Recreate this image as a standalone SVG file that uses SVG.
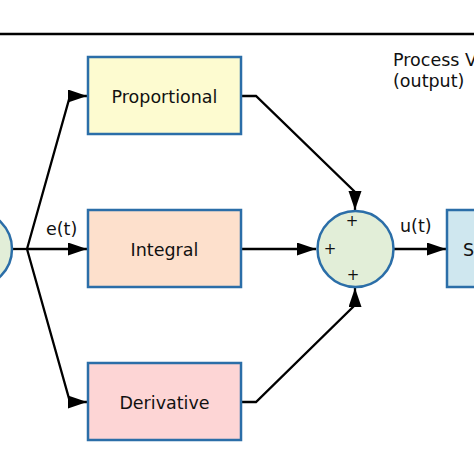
<svg xmlns="http://www.w3.org/2000/svg" width="474" height="474" viewBox="0 0 474 474">
<style>
.box{stroke:#2b6ea8;stroke-width:2.5}
.lbl{font-family:"DejaVu Sans",sans-serif;font-size:17.5px;fill:#111}
.pm{font-family:"DejaVu Sans",sans-serif;font-size:15px;fill:#111}
.c{fill:none;stroke:#000;stroke-width:2.3}
</style>
<defs>
<marker id="ah" markerUnits="userSpaceOnUse" markerWidth="22" markerHeight="16" refX="19" refY="6.5" orient="auto">
<path d="M0,0 L19,6.5 L0,13 z" fill="#000"/>
</marker>
</defs>
<rect width="474" height="474" fill="#fff"/>
<line x1="0" y1="34" x2="474" y2="34" stroke="#000" stroke-width="2.3"/>
<g id="connectors">
<path class="c" d="M12,249 L27,249"/>
<path class="c" d="M27,249 L87,249" marker-end="url(#ah)"/>
<path class="c" d="M27,249 L70,96 L87,96" marker-end="url(#ah)"/>
<path class="c" d="M27,249 L70,402 L87,402" marker-end="url(#ah)"/>
<path class="c" d="M241,96 L256,96 L355,192 L355,210" marker-end="url(#ah)"/>
<path class="c" d="M241,249 L316,249" marker-end="url(#ah)"/>
<path class="c" d="M241,402 L256,402 L355,305 L355,288" marker-end="url(#ah)"/>
<path class="c" d="M394,249 L446,249" marker-end="url(#ah)"/>
<text class="lbl" x="46" y="235">e(t)</text>
<text class="lbl" x="400" y="232">u(t)</text>
</g>
<g id="setpoint-sum">
<circle class="box" cx="-26" cy="249" r="38" fill="#e2eed8"/>
</g>
<g id="proportional">
<rect class="box" x="88" y="57" width="153" height="77" fill="#fdfbd0"/>
<text class="lbl" x="164.5" y="103" text-anchor="middle">Proportional</text>
</g>
<g id="integral">
<rect class="box" x="88" y="210" width="153" height="77" fill="#fde0cc"/>
<text class="lbl" x="164.5" y="256" text-anchor="middle">Integral</text>
</g>
<g id="derivative">
<rect class="box" x="88" y="363" width="153" height="77" fill="#fdd5d5"/>
<text class="lbl" x="164.5" y="409" text-anchor="middle">Derivative</text>
</g>
<g id="sum">
<circle class="box" cx="355.5" cy="249" r="38" fill="#e2eed8"/>
<text class="pm" x="352" y="226" text-anchor="middle">+</text>
<text class="pm" x="330" y="254" text-anchor="middle">+</text>
<text class="pm" x="353" y="280" text-anchor="middle">+</text>
</g>
<g id="system">
<rect class="box" x="447" y="210" width="40" height="77" fill="#cfe7ef"/>
<text class="lbl" x="463" y="256">S</text>
</g>
<g id="pv-label">
<text class="lbl" x="393" y="66">Process Variable</text>
<text class="lbl" x="393" y="87">(output)</text>
</g>
</svg>
